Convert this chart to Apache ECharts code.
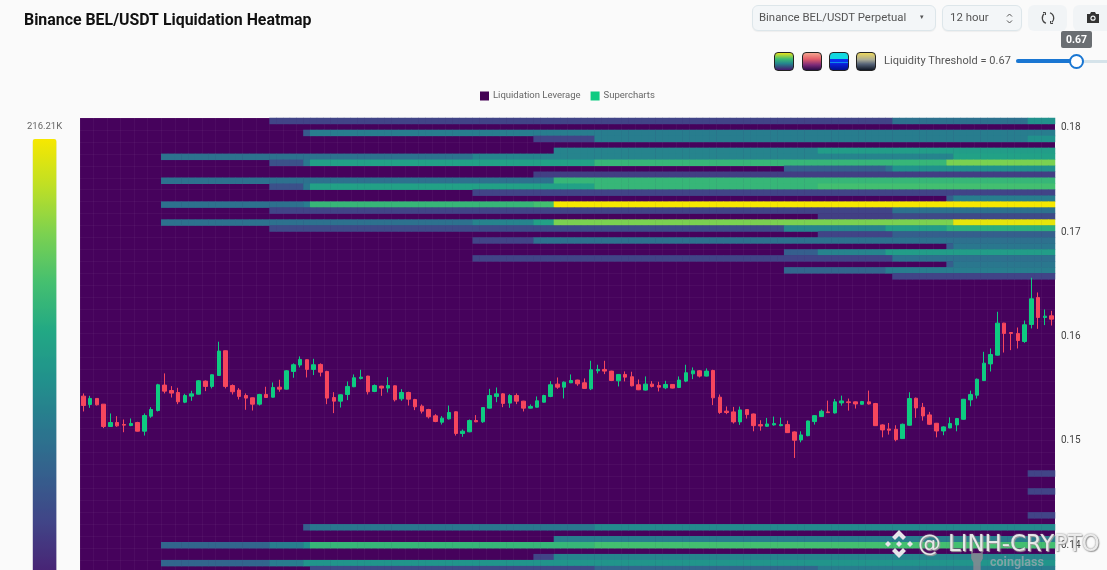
<!DOCTYPE html>
<html><head><meta charset="utf-8">
<script src="https://cdn.jsdelivr.net/npm/echarts@6/dist/echarts.min.js"></script>
<style>
html,body{margin:0;padding:0;width:1107px;height:570px;overflow:hidden;background:#fafafa;font-family:Roboto,"Noto Sans",sans-serif}
#chart{position:absolute;left:0;top:0;width:1107px;height:700px}
.ui{position:absolute;box-sizing:border-box}
.box{top:5px;height:26px;border:1px solid #dde6ea;border-radius:6px;background:#f3f6f8;font-size:11.4px;line-height:23px;color:#555;box-shadow:0 1px 1px rgba(0,0,0,.05)}
.btn{top:5px;height:26px;border-radius:6px;background:#f1f4f6}
.sw{top:52px;width:20px;height:19px;border:1.5px solid #222;border-radius:4px}
</style></head><body>
<div id="chart"></div>
<div class="ui box" style="left:752px;width:184px;padding-left:6px">Binance BEL/USDT Perpetual<span style="position:absolute;left:167px;top:0;font-size:7px;color:#555">&#9662;</span></div>
<div class="ui box" style="left:942px;width:80px;padding-left:7px">12 hour<svg style="position:absolute;left:62px;top:6px" width="9" height="13" viewBox="0 0 9 13"><path d="M2 4.5L4.5 2L7 4.5M2 8.5L4.5 11L7 8.5" fill="none" stroke="#555" stroke-width="1"/></svg></div>
<div class="ui btn" style="left:1028px;width:39px"><svg style="position:absolute;left:13px;top:6px" width="14" height="14" viewBox="0 0 14 14"><path d="M3.2 2.8A5.6 5.6 0 0 0 5 12.3M10.8 11.2A5.6 5.6 0 0 0 9 1.7" fill="none" stroke="#444" stroke-width="1.2"/><path d="M2 1.5h2.5v2.5M12 12.5H9.5V10" fill="none" stroke="#444" stroke-width="1"/></svg></div>
<div class="ui btn" style="left:1073px;width:40px"><svg style="position:absolute;left:13px;top:6px" width="14" height="13" viewBox="0 0 14 13"><path d="M1 3h3l1-2h4l1 2h3v9H1z" fill="#333"/><circle cx="7" cy="7.2" r="2.6" fill="#f1f4f6"/><circle cx="7" cy="7.2" r="1.4" fill="#333"/></svg></div>
<div class="ui sw" style="left:774px;background:linear-gradient(#e8e31c,#3cbc74 35%,#25858e 62%,#46196e)"></div>
<div class="ui sw" style="left:802px;background:linear-gradient(#f4a58f,#e4606a 35%,#7c2a78 70%,#2a0c48)"></div>
<div class="ui sw" style="left:829px;background:linear-gradient(#12d8e0 35%,#0a30f0 36%,#0a30f0 50%,#12d0f0 52%,#0a20e0 62%,#001090)"></div>
<div class="ui sw" style="left:856px;background:linear-gradient(#ecd75e,#a8aa96 40%,#566478 65%,#101826)"></div>
<div class="ui" style="left:884px;top:53px;font-size:11px;line-height:15px;color:#555;letter-spacing:.05px;white-space:nowrap">Liquidity Threshold = 0.67</div>
<div class="ui" style="left:1016px;top:60px;width:91px;height:3px;background:#d5e3ea"></div>
<div class="ui" style="left:1016px;top:59px;width:60px;height:4px;border-radius:2px;background:#1976d2"></div>
<div class="ui" style="left:1069px;top:54px;width:15px;height:15px;border-radius:50%;background:#fff;border:2px solid #1976d2"></div>
<div class="ui" style="left:1061px;top:31px;width:31px;height:17px;border-radius:2px;background:#6a6e72;color:#fff;font-size:10.5px;font-weight:700;line-height:17px;text-align:center">0.67</div>
<svg class="ui" style="left:884px;top:529px;overflow:visible" width="30" height="30" viewBox="0 0 30 30"><g fill="#e8e4ea"><path d="M15 1l7 7-3 3-4-4-4 4-3-3z"/><path d="M15 29l-7-7 3-3 4 4 4-4 3 3z"/><path d="M4 12l3 3-3 3-3-3z"/><path d="M26 12l3 3-3 3-3-3z"/><path d="M15 12l3 3-3 3-3-3z"/></g></svg>
<div class="ui" style="left:918px;top:528px;font-size:22.8px;line-height:30px;color:rgba(255,255,255,.82);text-shadow:0 0 2px #777,1px 1px 1px #aaa;white-space:nowrap;font-family:'DejaVu Sans'">@ LINH-CRYPTO</div>
<svg class="ui" style="left:969px;top:551px" width="16" height="19" viewBox="0 0 15 18"><path d="M2 0l2 2h7l2-2v7l-2 4v7H4v-7L2 7z" fill="#8e8a92" opacity=".8"/></svg>
<div class="ui" style="left:990px;top:554px;font-size:12.5px;line-height:15px;font-weight:700;color:rgba(170,170,180,.7);white-space:nowrap">coinglass</div>
<script>
// Candle values, price x 100000
const priceScale = 100000;
const candleOpen = [15410,15330,15388,15333,15119,15157,15138,15128,15157,15074,15218,15272,15516,15464,15445,15352,15410,15429,15554,15503,15608,15845,15512,15468,15416,15394,15333,15426,15400,15496,15477,15647,15708,15759,15666,15714,15647,15397,15362,15426,15500,15580,15602,15455,15506,15487,15509,15384,15445,
15378,15314,15282,15221,15160,15192,15260,15052,15068,15176,15164,15295,15407,15432,15343,15416,15362,15295,15304,15352,15407,15525,15496,15538,15564,15538,15480,15653,15666,15650,15557,15618,15596,15519,15468,15525,15512,15490,15522,15493,15554,15624,15653,15602,15656,15400,15266,
15259,15163,15281,15239,15137,15121,15134,15127,15137,15067,14990,15031,15166,15214,15259,15249,15345,15355,15355,15332,15355,15339,15134,15095,15092,15003,15131,15390,15303,15230,15150,15076,15105,15134,15188,15374,15419,15559,15719,15803,16110,16020,16011,15934,16097,16356,16164,16180];
const candleClose = [15320,15388,15327,15119,15157,15125,15132,15148,15074,15224,15282,15519,15458,15439,15356,15416,15432,15557,15503,15615,15842,15503,15452,15407,15391,15333,15426,15397,15493,15477,15653,15711,15762,15666,15711,15640,15391,15362,15423,15503,15586,15592,15452,15512,15487,15512,15375,15445,15381,
15308,15266,15212,15167,15199,15253,15052,15074,15176,15164,15301,15416,15432,15340,15416,15362,15295,15311,15365,15416,15519,15496,15544,15560,15528,15484,15663,15666,15650,15560,15618,15592,15509,15471,15525,15503,15496,15522,15487,15564,15634,15653,15602,15650,15394,15253,15253,
15163,15278,15233,15127,15124,15143,15147,15137,15060,14987,15038,15172,15223,15265,15252,15355,15364,15348,15335,15358,15335,15127,15086,15083,14993,15140,15387,15297,15220,15140,15076,15115,15147,15195,15380,15425,15572,15726,15809,16110,16011,16011,15943,16094,16343,16164,16177,16148];
const candleLow = [15263,15298,15320,15103,15119,15116,15064,15122,15071,15032,15202,15263,15436,15397,15333,15343,15365,15426,15458,15484,15605,15484,15426,15378,15279,15272,15320,15397,15397,15452,15474,15586,15685,15589,15612,15599,15333,15247,15301,15372,15496,15570,15426,15448,15413,15445,15359,15365,15320,
15276,15244,15196,15160,15138,15186,15032,15020,15064,15160,15154,15292,15352,15304,15298,15333,15263,15292,15301,15349,15400,15480,15388,15535,15509,15480,15468,15628,15621,15554,15503,15551,15503,15468,15464,15493,15455,15477,15484,15487,15544,15573,15589,15599,15324,15240,15237,
15147,15134,15195,15073,15079,15115,15127,15121,15057,14817,14967,15025,15137,15211,15249,15243,15319,15271,15291,15329,15329,15124,15015,15041,14977,14999,15127,15201,15175,15134,15015,15035,15102,15073,15185,15313,15387,15556,15646,15799,15828,15851,15867,15921,16059,16055,16091,16087];
const candleHigh = [15436,15413,15388,15333,15244,15218,15186,15196,15164,15244,15304,15528,15628,15506,15490,15432,15461,15564,15560,15618,15932,15848,15522,15487,15436,15397,15432,15500,15541,15567,15660,15724,15791,15762,15768,15724,15653,15448,15426,15551,15618,15663,15605,15522,15509,15592,15512,15477,15452,
15384,15330,15288,15237,15218,15320,15263,15090,15186,15228,15304,15480,15493,15439,15429,15436,15365,15330,15407,15423,15554,15589,15551,15618,15567,15580,15749,15711,15749,15653,15621,15647,15644,15570,15599,15554,15548,15557,15525,15599,15711,15685,15660,15676,15663,15426,15311,
15307,15310,15284,15243,15179,15201,15214,15204,15175,15073,15073,15175,15227,15281,15367,15383,15415,15387,15358,15364,15463,15345,15140,15153,15131,15147,15447,15396,15345,15259,15153,15121,15207,15201,15383,15463,15579,15835,15867,16219,16113,16023,16068,16135,16545,16404,16241,16228];

// Liquidation bands: row number from the top, then [first candle, liquidity in K] steps
const heatRows = [
 [0,[[28,43],[120,80],[140,108]]],
 [2,[[33,60],[34,91]]],
 [3,[[67,43],[76,91],[140,108]]],
 [5,[[70,97],[109,119]]],
 [6,[[12,80],[58,97],[129,123]]],
 [7,[[28,54],[33,86],[34,123],[76,143],[128,173]]],
 [8,[[104,65],[119,80],[120,108]]],
 [9,[[67,40]]],
 [10,[[12,80],[70,143]]],
 [11,[[28,54],[33,86],[34,123],[76,143],[109,151]]],
 [12,[[58,43]]],
 [13,[[128,65],[129,91]]],
 [14,[[12,80],[33,91],[34,143],[67,151],[70,216]]],
 [15,[[28,43],[120,80]]],
 [16,[[109,40],[120,48]]],
 [17,[[12,80],[58,97],[67,123],[70,173],[129,210]]],
 [18,[[28,48],[104,97],[119,119],[128,136]]],
 [19,[[109,43],[120,65]]],
 [20,[[58,43],[67,80]]],
 [21,[[128,65],[129,86]]],
 [22,[[104,65],[109,97],[119,119]]],
 [23,[[58,43],[120,80]]],
 [24,[[128,65],[129,86]]],
 [25,[[104,71],[119,91]]],
 [26,[[120,43]]],
 [59,[[140,43]]],
 [62,[[140,43]]],
 [66,[[140,43]]],
 [68,[[33,65],[34,86],[76,102]]],
 [70,[[70,91]]],
 [71,[[12,71],[28,91],[33,108],[34,143],[76,151]]],
 [73,[[67,43],[70,97]]],
 [74,[[12,71],[28,91],[33,112]]],
 [75,[[34,48],[76,71],[109,91]]]
];
const rowCount = 78;
const priceTicks = [0.14,0.15,0.16,0.17,0.18];
const priceMin = 0.136083, priceMax = 0.180767;
const maxLiquidity = 216.21;
const viridis = ['#440154','#482475','#414487','#355f8d','#2a788e','#21918c','#22a884','#44bf70','#7ad151','#bddf26','#f7e800'];

const n = candleOpen.length;
const cats = candleOpen.map((_,i)=>String(i));
const rowsCat = Array.from({length:rowCount},(_,i)=>String(i));
const candles = candleOpen.map((o,i)=>[o/priceScale,candleClose[i]/priceScale,candleLow[i]/priceScale,candleHigh[i]/priceScale]);
const cells = [];
heatRows.forEach(([row,steps])=>{
  steps.forEach(([from,v],j)=>{
    const to = j+1<steps.length ? steps[j+1][0] : n;
    for(let c=from;c<to;c++) cells.push([c,row,v]);
  });
});
const GREEN='#0ecb81', RED='#f6465d';
const chart = echarts.init(document.getElementById('chart'),null,{renderer:'canvas'});
chart.setOption({
  animation:false,
  backgroundColor:'#fafafa',
  textStyle:{fontFamily:'Roboto'},
  title:{text:'Binance BEL/USDT Liquidation Heatmap',left:19,top:8,textStyle:{fontSize:15.9,fontWeight:700,color:'#111',fontFamily:'Roboto'}},
  legend:{top:86,left:475,itemWidth:9,itemHeight:9,itemGap:10,icon:'rect',textStyle:{fontSize:9.5,color:'#666',padding:[0,0,0,-1]},
    data:[{name:'Liquidation Leverage',itemStyle:{color:'#440154'}},{name:'Supercharts',itemStyle:{color:'#0ecb81',borderWidth:0}}]},
  grid:{left:80,top:118,width:975,height:466.05,backgroundColor:'#46025c',borderWidth:0,show:true},
  visualMap:{type:'continuous',min:0,max:maxLiquidity,seriesIndex:0,left:12,top:107,itemWidth:24,itemHeight:480,calculable:false,
    text:['216.21K',''],textGap:7,textStyle:{fontSize:9.5,color:'#666'},inRange:{color:viridis}},
  xAxis:[{type:'category',data:cats,boundaryGap:true,axisLine:{show:false},axisTick:{show:false},axisLabel:{show:false},
    splitLine:{show:true,interval:1,lineStyle:{color:'rgba(255,255,255,0.04)',width:1}}}],
  yAxis:[
    {type:'category',data:rowsCat,inverse:true,boundaryGap:true,axisLine:{show:false},axisTick:{show:false},axisLabel:{show:false},
     splitLine:{show:true,interval:1,lineStyle:{color:'rgba(255,255,255,0.04)',width:1}}},
    {type:'value',position:'right',min:priceMin,max:priceMax,splitLine:{show:false},axisLine:{show:false},axisTick:{show:false},
     axisLabel:{customValues:priceTicks,margin:6,fontSize:10,color:'#444',verticalAlign:'top',lineHeight:4,formatter:v=>v.toFixed(2)}}
  ],
  series:[
    {name:'Liquidation Leverage',type:'heatmap',xAxisIndex:0,yAxisIndex:0,data:cells,progressive:0,itemStyle:{color:'#440154'},emphasis:{disabled:true},z:2},
    {name:'Supercharts',type:'candlestick',xAxisIndex:0,yAxisIndex:1,data:candles,barWidth:4,z:3,
      itemStyle:{color:GREEN,color0:RED,borderColor:GREEN,borderColor0:RED,borderWidth:1}}
  ]
});
</script>
</body></html>
